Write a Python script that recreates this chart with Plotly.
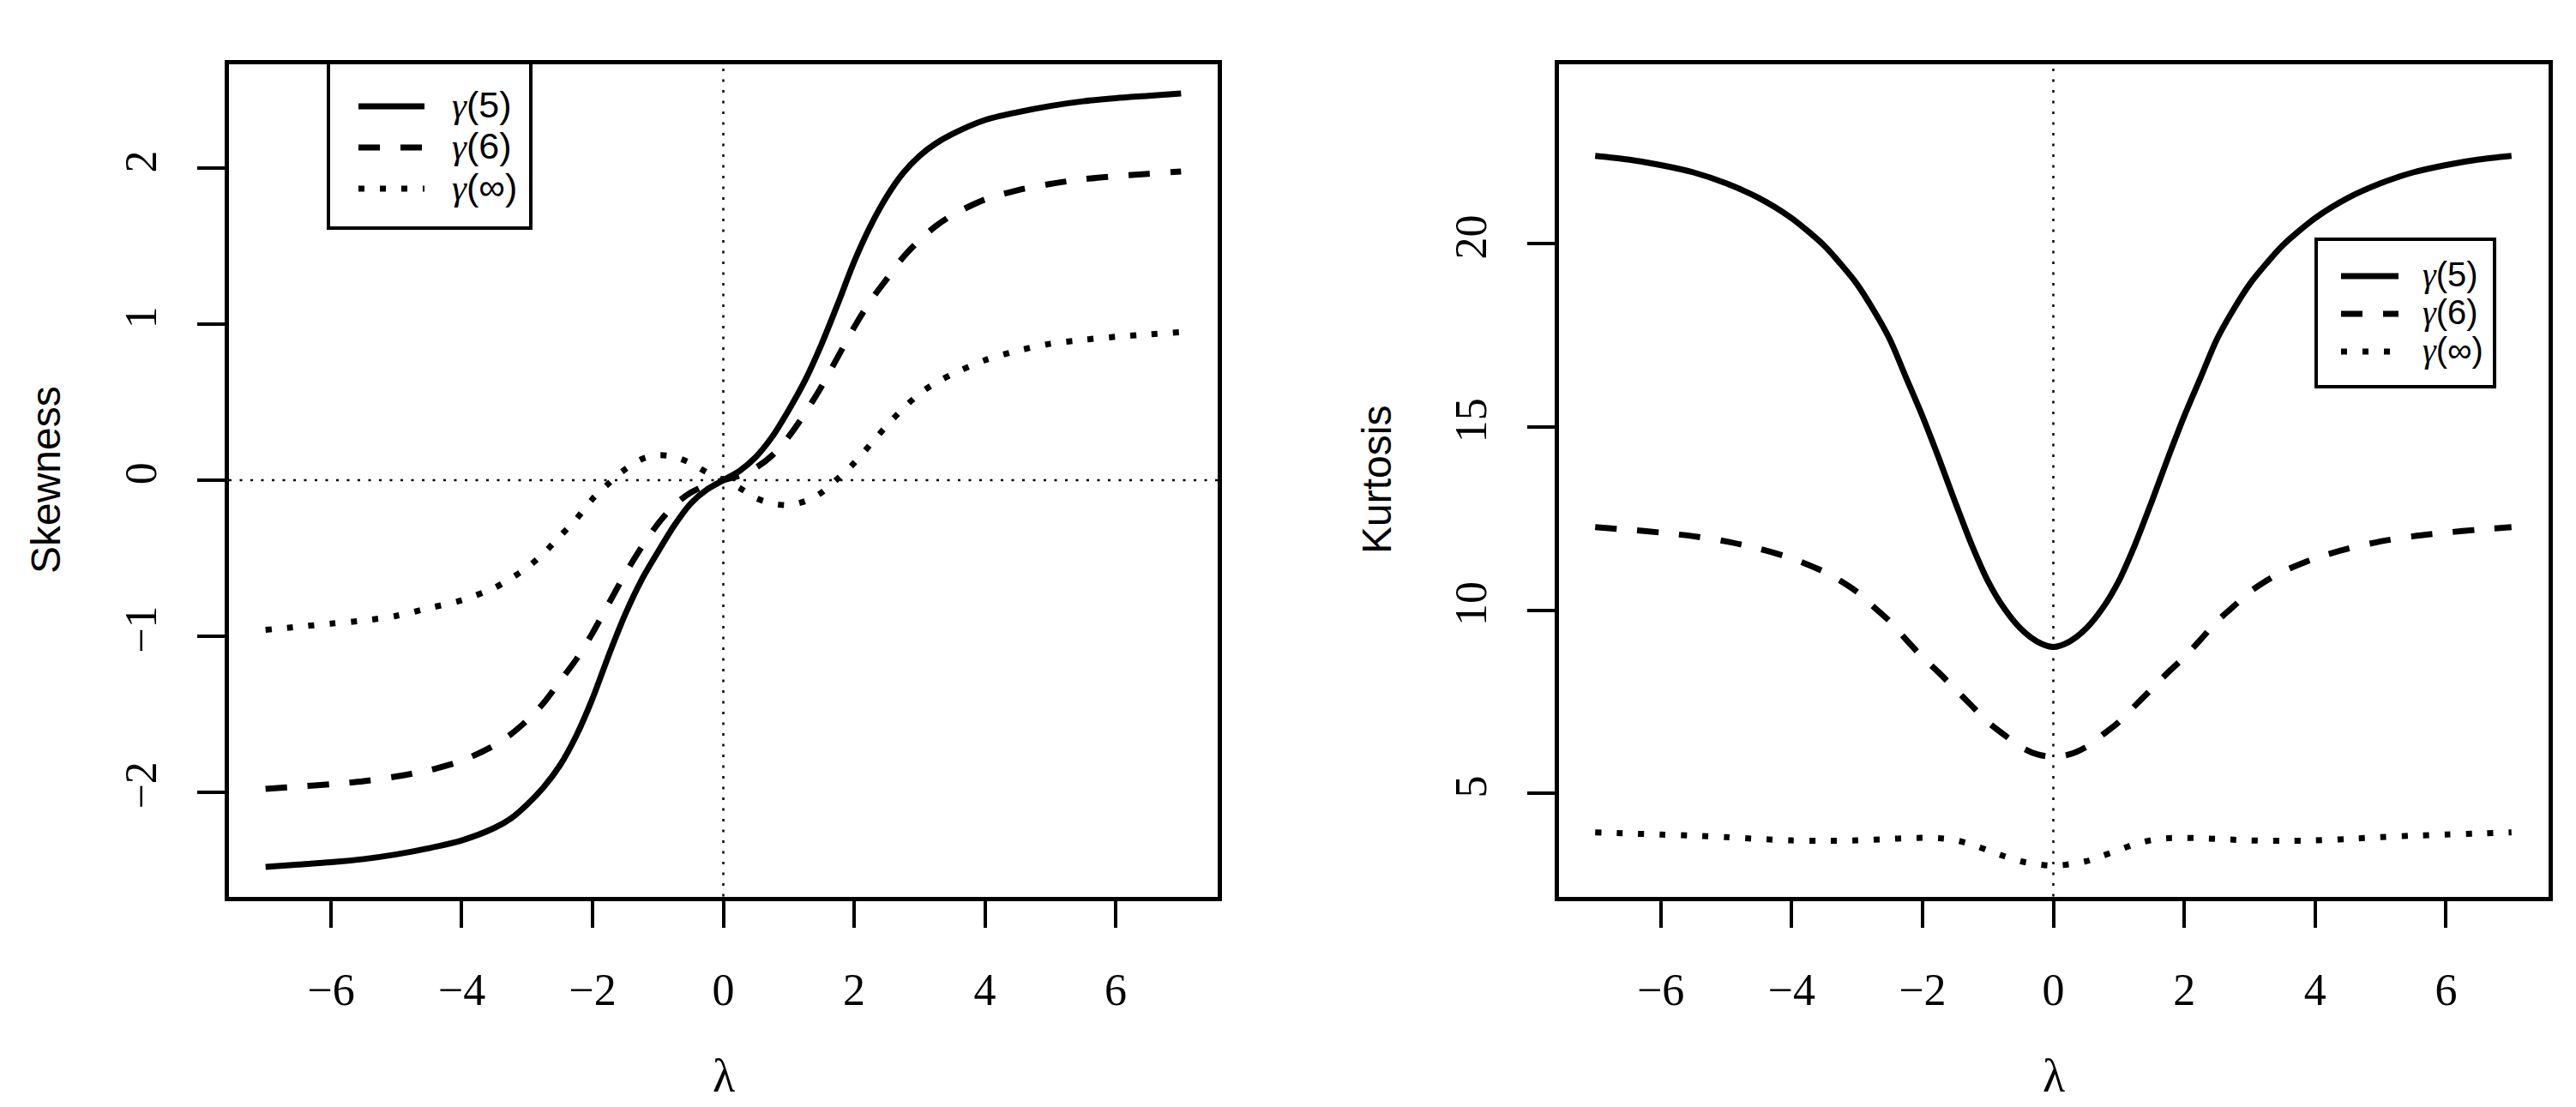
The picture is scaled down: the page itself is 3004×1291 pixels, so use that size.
import plotly.graph_objects as go

W, H = 3004, 1291

lam = [-7, -6.5, -6, -5.5, -5, -4.5, -4, -3.5, -3.25, -3, -2.75, -2.5, -2.25, -2, -1.75, -1.5,
       -1.25, -1, -0.75, -0.5, -0.25, 0, 0.25, 0.5, 0.75, 1, 1.25, 1.5, 1.75, 2, 2.25,
       2.5, 2.75, 3, 3.25, 3.5, 4, 4.5, 5, 5.5, 6, 6.5, 7]

skew_g5 = [-2.48, -2.465, -2.45, -2.43, -2.40, -2.36, -2.31, -2.23, -2.17, -2.08, -1.97, -1.83,
           -1.64, -1.40, -1.12, -0.86, -0.64, -0.46, -0.29, -0.15, -0.06, 0.0, 0.06, 0.15,
           0.28, 0.45, 0.64, 0.87, 1.13, 1.40, 1.63, 1.82, 1.97, 2.08, 2.16, 2.22, 2.31, 2.36,
           2.40, 2.43, 2.45, 2.465, 2.48]
skew_g6 = [-1.98, -1.965, -1.95, -1.93, -1.90, -1.86, -1.80, -1.70, -1.63, -1.54, -1.43, -1.29,
           -1.15, -0.98, -0.79, -0.60, -0.43, -0.28, -0.16, -0.08, -0.03, 0.0, 0.03, 0.08,
           0.16, 0.28, 0.43, 0.60, 0.79, 0.98, 1.15, 1.29, 1.43, 1.54, 1.63, 1.70, 1.80, 1.86,
           1.90, 1.93, 1.95, 1.965, 1.98]
skew_ginf = [-0.96, -0.94, -0.92, -0.90, -0.87, -0.82, -0.77, -0.69, -0.63, -0.56, -0.47, -0.36,
             -0.25, -0.12, -0.02, 0.07, 0.135, 0.16, 0.15, 0.11, 0.05, 0.0, -0.05, -0.115,
             -0.15, -0.16, -0.135, -0.08, 0.01, 0.11, 0.23, 0.35, 0.46, 0.555, 0.625, 0.68, 0.77,
             0.83, 0.875, 0.90, 0.92, 0.935, 0.95]

kurt_g5 = [22.4, 22.3, 22.15, 21.95, 21.65, 21.25, 20.7, 19.95, 19.45, 18.9, 18.2, 17.4, 16.35,
           15.3, 14.15, 12.95, 11.8, 10.8, 10.05, 9.5, 9.15, 9.0, 9.15, 9.5, 10.05, 10.8,
           11.8, 12.95, 14.15, 15.3, 16.35, 17.4, 18.2, 18.9, 19.45, 19.95, 20.7, 21.25, 21.65,
           21.95, 22.15, 22.3, 22.4]
kurt_g6 = [12.27, 12.2, 12.12, 12.02, 11.88, 11.68, 11.42, 11.05, 10.8, 10.5, 10.1, 9.7, 9.2,
           8.72, 8.3, 7.85, 7.4, 6.95, 6.6, 6.27, 6.07, 6.0, 6.07, 6.27, 6.6, 6.95, 7.4,
           7.85, 8.3, 8.72, 9.2, 9.7, 10.1, 10.5, 10.8, 11.05, 11.42, 11.68, 11.88, 12.02, 12.12,
           12.2, 12.27]
kurt_ginf = [3.94, 3.91, 3.88, 3.85, 3.81, 3.76, 3.72, 3.71, 3.71, 3.72, 3.74, 3.76, 3.78, 3.79,
             3.78, 3.73, 3.61, 3.45, 3.29, 3.15, 3.07, 3.03, 3.07, 3.15, 3.3, 3.46, 3.62,
             3.73, 3.78, 3.79, 3.78, 3.76, 3.74, 3.72, 3.71, 3.71, 3.72, 3.76, 3.81, 3.85, 3.88,
             3.91, 3.94]

series_names = ["γ(5)", "γ(6)", "γ(∞)"]
legend_labels = ["(5)", "(6)", "(∞)"]
x_ticks = [-6, -4, -2, 0, 2, 4, 6]
skew_ticks = [-2, -1, 0, 1, 2]
kurt_ticks = [5, 10, 15, 20]

LW = 7
dashes = ["solid", "25px,24px", "7px,18px"]
REF_DASH = "3px,9.5px"

fig = go.Figure()
for vals, nm, d in zip([skew_g5, skew_g6, skew_ginf], series_names, dashes):
    fig.add_trace(go.Scatter(x=lam, y=vals, mode="lines", name=nm, showlegend=False,
                             line=dict(color="black", width=LW, dash=d, shape="spline", smoothing=0.8),
                             xaxis="x", yaxis="y"))
for vals, nm, d in zip([kurt_g5, kurt_g6, kurt_ginf], series_names, dashes):
    fig.add_trace(go.Scatter(x=lam, y=vals, mode="lines", name=nm, showlegend=False,
                             line=dict(color="black", width=LW, dash=d, shape="spline", smoothing=0.8),
                             xaxis="x2", yaxis="y2"))

def px(X):
    return X / W

def py(Y):
    return 1 - Y / H

L1, R1 = 259, 1412
L2, R2 = 1809.5, 2963.5
T, B = 66.5, 1037.5

tickfont = dict(family="Liberation Serif", size=52, color="black")
axis_common = dict(showline=True, mirror=True, linewidth=4.5, linecolor="black",
                   ticks="outside", ticklen=32, tickwidth=3.5, tickcolor="black",
                   showgrid=False, zeroline=False, tickfont=tickfont)

fig.update_layout(
    width=W, height=H,
    margin=dict(l=0, r=0, t=0, b=0),
    paper_bgcolor="white", plot_bgcolor="white",
    xaxis=dict(domain=[px(L1), px(R1)], range=[-7.56, 7.56], tickvals=x_ticks,
               anchor="y", ticklabelstandoff=27, **axis_common),
    yaxis=dict(domain=[py(B), py(T)], range=[-2.67, 2.67], tickvals=skew_ticks,
               anchor="x", tickangle=-90, ticklabelstandoff=27, **axis_common),
    xaxis2=dict(domain=[px(L2), px(R2)], range=[-7.56, 7.56], tickvals=x_ticks,
                anchor="y2", ticklabelstandoff=27, **axis_common),
    yaxis2=dict(domain=[py(B), py(T)], range=[2.19, 24.91], tickvals=kurt_ticks,
                anchor="x2", tickangle=-90, ticklabelstandoff=27, **axis_common),
)

ref = dict(color="black", width=2.5, dash=REF_DASH)
fig.add_shape(type="line", xref="x", yref="y domain", x0=0, x1=0, y0=0, y1=1, line=ref, layer="below")
fig.add_shape(type="line", xref="x domain", yref="y", x0=0, x1=1, y0=0, y1=0, line=ref, layer="below")
fig.add_shape(type="line", xref="x2", yref="y2 domain", x0=0, x1=0, y0=0, y1=1, line=ref, layer="below")

# axis titles
title_font_sans = dict(family="Liberation Sans", size=48, color="black")
fig.add_annotation(text="Skewness", xref="paper", yref="paper", x=px(45), y=py((T + B) / 2),
                   textangle=-90, showarrow=False, font=title_font_sans, xanchor="center", yanchor="middle")
fig.add_annotation(text="Kurtosis", xref="paper", yref="paper", x=px(1597), y=py((T + B) / 2),
                   textangle=-90, showarrow=False, font=title_font_sans, xanchor="center", yanchor="middle")
lam_font = dict(family="Liberation Serif", size=54, color="black")
fig.add_annotation(text="λ", xref="paper", yref="paper", x=px((L1 + R1) / 2), y=py(1247),
                   showarrow=False, font=lam_font, xanchor="center", yanchor="middle")
fig.add_annotation(text="λ", xref="paper", yref="paper", x=px((L2 + R2) / 2), y=py(1247),
                   showarrow=False, font=lam_font, xanchor="center", yanchor="middle")

# custom legends (R style)
def add_legend(bx0, by0, bx1, by1, lx0, lx1, tx, rows, fsize):
    fig.add_shape(type="rect", xref="paper", yref="paper", x0=px(bx0), x1=px(bx1),
                  y0=py(by1), y1=py(by0), line=dict(color="black", width=4),
                  fillcolor="white", layer="above")
    for i, (lab, d) in enumerate(zip(legend_labels, dashes)):
        yy = rows[i]
        fig.add_shape(type="line", xref="paper", yref="paper", x0=px(lx0), x1=px(lx1),
                      y0=py(yy), y1=py(yy), line=dict(color="black", width=LW, dash=d), layer="above")
        fig.add_annotation(
            text="<span style='font-family:Liberation Serif'><i>γ</i></span>" + lab,
            xref="paper", yref="paper", x=px(tx), y=py(yy - 2), showarrow=False,
            xanchor="left", yanchor="middle",
            font=dict(family="Liberation Sans", size=fsize, color="black"))

add_legend(375, 65, 611, 258, 410, 487, 517, [116, 164, 212], 43)
add_legend(2693, 271, 2901, 443, 2722, 2789, 2815, [314, 358, 402], 40)

fig.write_html("out.html", config={"displayModeBar": False})
